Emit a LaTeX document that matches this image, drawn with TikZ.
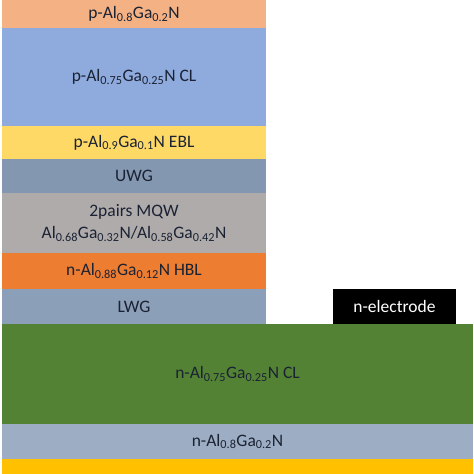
\documentclass[tikz,border=0pt]{standalone}
\usepackage{fontspec}
\setmainfont{Carlito}
\definecolor{cpal}{HTML}{F4B183}
\definecolor{cpcl}{HTML}{8FAADC}
\definecolor{cebl}{HTML}{FFD966}
\definecolor{cuwg}{HTML}{8497B0}
\definecolor{cmqw}{HTML}{AFABAB}
\definecolor{chbl}{HTML}{ED7D31}
\definecolor{clwg}{HTML}{8C9FB8}
\definecolor{cncl}{HTML}{548235}
\definecolor{cnal}{HTML}{9DADC3}
\definecolor{csub}{HTML}{FFC000}
\definecolor{ctxt}{HTML}{1A2233}
\newcommand{\sbs}[1]{\textsubscript{#1}}
\begin{document}
\begin{tikzpicture}[x=1pt,y=-1pt,
  layer/.style={anchor=north west,inner sep=0pt,outer sep=0pt,draw=none,
    text=ctxt,font=\fontsize{17.5}{22}\selectfont,align=center},
]
\useasboundingbox (0,0) rectangle (474,474);
\fill[white] (0,0) rectangle (474,474);
\node[layer,fill=cpal,minimum width=264pt,minimum height=28pt] (pal) at (2,0) {p-Al\sbs{0.8}Ga\sbs{0.2}N};
\node[layer,fill=cpcl,minimum width=264pt,minimum height=98pt] (pcl) at (2,28) {p-Al\sbs{0.75}Ga\sbs{0.25}N CL};
\node[layer,fill=cebl,minimum width=264pt,minimum height=33pt] (ebl) at (2,126) {p-Al\sbs{0.9}Ga\sbs{0.1}N EBL};
\node[layer,fill=cuwg,minimum width=264pt,minimum height=34pt] (uwg) at (2,159) {UWG};
\node[layer,fill=cmqw,minimum width=264pt,minimum height=60pt] (mqw) at (2,193) {2pairs MQW\\Al\sbs{0.68}Ga\sbs{0.32}N/Al\sbs{0.58}Ga\sbs{0.42}N};
\node[layer,fill=chbl,minimum width=264pt,minimum height=36pt] (hbl) at (2,253) {n-Al\sbs{0.88}Ga\sbs{0.12}N HBL};
\node[layer,fill=clwg,minimum width=264pt,minimum height=35pt] (lwg) at (2,289) {LWG};
\node[layer,fill=black,text=white,minimum width=123pt,minimum height=35pt] (elec) at (333,289) {n-electrode};
\node[layer,fill=cncl,minimum width=471pt,minimum height=100pt] (ncl) at (2,324) {n-Al\sbs{0.75}Ga\sbs{0.25}N CL};
\node[layer,fill=cnal,minimum width=471pt,minimum height=35pt] (nal) at (2,424) {n-Al\sbs{0.8}Ga\sbs{0.2}N};
\node[layer,fill=csub,minimum width=471pt,minimum height=15pt] (sub) at (2,459) {};
\end{tikzpicture}
\end{document}
